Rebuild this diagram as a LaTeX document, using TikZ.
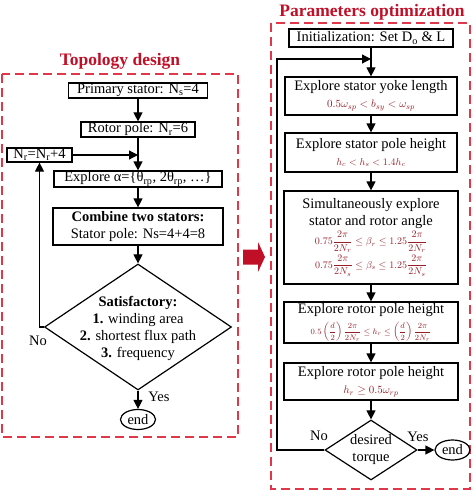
\documentclass[tikz,border=0pt]{standalone}
\usepackage{amsmath}
\usepackage{fontspec}
\setmainfont{Liberation Serif}
\usetikzlibrary{shapes.geometric,arrows.meta}
\definecolor{ttlred}{RGB}{192,16,40}
\definecolor{frm}{RGB}{150,30,40}
\definecolor{dsh}{RGB}{225,55,75}
\newcommand{\fml}[2]{{\color{frm}\fontsize{#1}{#1}\selectfont$#2$}}
\begin{document}
\begin{tikzpicture}
[x=1pt,y=-1pt,line width=1.2pt,>={Triangle[length=9pt,width=9pt]},
 every node/.style={font=\fontsize{14.5}{17}\selectfont},
 box/.style={draw,rectangle,align=center,inner xsep=2pt,inner ysep=0.5pt},
 dec/.style={draw,diamond,inner sep=0pt},
 stop/.style={draw,ellipse,inner sep=0pt,minimum width=35,minimum height=20},
 ttl/.style={text=ttlred,font=\fontsize{17.5}{20}\selectfont\bfseries},
 frame/.style={draw=dsh,line width=1.8pt,dash pattern=on 9pt off 5pt}]
   \useasboundingbox (0,0) rectangle (474,492);
   \draw[frame] (2,74) rectangle (238,437);
   \draw[frame] (271,23) rectangle (470,489);
   \fill[fill=ttlred] (243,249.5) -- (258,249.5) -- (258,242) -- (265,257) -- (258,272) -- (258,264.5) -- (243,264.5) -- cycle;

   \node[ttl] (t0) at (120,61) {Topology design};
   \node[box,minimum width=139,minimum height=15] (n0) at (138,90.5) {Primary stator: N\textsubscript{s}=4};
   \node[box,minimum width=114,minimum height=15] (n1) at (138,129.5) {Rotor pole: N\textsubscript{r}=6};
   \node[box,minimum width=65,minimum height=14] (n2) at (39.5,155) {N\textsubscript{r}=N\textsubscript{r}+4};
   \node[box,minimum width=168,minimum height=16] (n3) at (138,179) {Explore α=\{θ\textsubscript{rp}, 2θ\textsubscript{rp}, …\}};
   \node[box,minimum width=170,minimum height=37] (n4) at (138,226.5) {\textbf{Combine two stators:}\\Stator pole: Ns=4+4=8};
   \node[dec,minimum width=187,minimum height=126] (n5) at (138,327) {};
   \node[align=center] (n5t) at (138,328) {\textbf{Satisfactory:}\\\textbf{1.} winding area\\\textbf{2.} shortest flux path\\\textbf{3.} frequency};
   \node[stop] (n6) at (138,419.5) {end};
   \coordinate (c0) at (138,155);
   \node (no1) at (38,341) {No};
   \node (yes1) at (159,397) {Yes};
    \path[->,draw]
    (n0) edge (n1)
    (n1) edge (n3)
    (n2) edge (c0)
    (n3) edge (n4)
    (n4) edge (n5)
    (n5) edge (n6)
    ;
   \draw[->] (n5.west) -| (n2.south);

   \node[ttl] (t1) at (372,12) {Parameters optimization};
   \node[box,minimum width=164,minimum height=18] (m0) at (371,38) {Initialization: Set D\textsubscript{o} \& L};
   \node[box,minimum width=172,minimum height=38] (m1) at (371,96) {Explore stator yoke length\\\fml{10.95}{0.5\omega_{sp}<b_{sy}<\omega_{sp}}};
   \node[box,minimum width=172,minimum height=39] (m2) at (371,152.5) {Explore stator pole height\\\fml{10}{h_c<h_s<1.4h_c}};
   \node[box,minimum width=174,minimum height=93] (m3) at (371,237.5) {Simultaneously explore\\stator and rotor angle\\[2pt]\fml{10}{0.75\dfrac{2\pi}{2N_r}\le\beta_r\le1.25\dfrac{2\pi}{2N_r}}\\[1pt]\fml{10}{0.75\dfrac{2\pi}{2N_s}\le\beta_s\le1.25\dfrac{2\pi}{2N_s}}};
   \node[box,minimum width=174,minimum height=41] (m4) at (371,322.5) {Explore rotor pole height\\[4pt]\fml{8}{0.5\left(\dfrac{d}{2}\right)\dfrac{2\pi}{2N_r}\le h_r\le\left(\dfrac{d}{2}\right)\dfrac{2\pi}{2N_r}}};
   \node[box,minimum width=174,minimum height=37] (m5) at (371,381.5) {Explore rotor pole height\\\fml{11}{h_r\ge0.5\omega_{rp}}};
   \node[dec,minimum width=92,minimum height=60] (m6) at (371,450) {};
   \node[align=center] (m6t) at (371,450) {desired\\torque};
   \node[stop] (m7) at (452.5,450) {end};
   \coordinate (c1) at (277,59);
   \coordinate (c2) at (371,59);
   \node (no2) at (319,436) {No};
   \node (yes2) at (418,437) {Yes};
    \path[->,draw]
    (m0) edge (m1)
    (m1) edge (m2)
    (m2) edge (m3)
    (m3) edge (m4)
    (m4) edge (m5)
    (m5) edge (m6)
    (m6) edge (m7)
    ;
   \draw[->] (m6.west) -| (c1) -- (c2);
  \end{tikzpicture}
\end{document}
